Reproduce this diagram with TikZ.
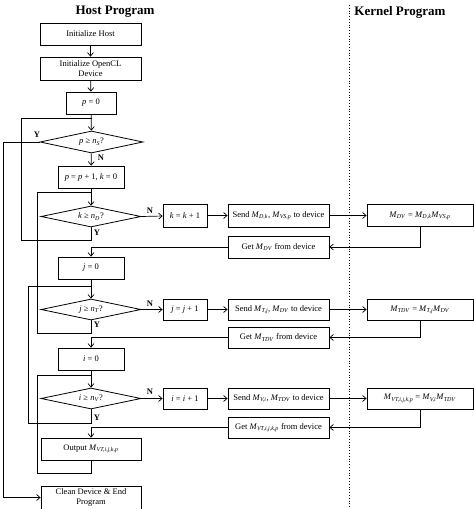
\documentclass[tikz,border=0pt]{standalone}
\usepackage{fontspec}
\setmainfont{Liberation Serif}
\usetikzlibrary{shapes.geometric,arrows.meta}
\newcommand{\iv}[1]{\textit{#1}}
\newcommand{\mm}[1]{\textit{M}\textsubscript{\textit{#1}}}
\newcommand{\bfs}{\fontsize{8.5}{9.5}\selectfont}
\begin{document}
\begin{tikzpicture}[x=1pt,y=-1pt,
  line width=0.7pt,
  box/.style={draw, line width=0.8pt, rectangle, inner sep=0pt, align=center, font=\bfs},
  dia/.style={draw, line width=0.8pt, diamond, aspect=5, inner sep=0pt, minimum width=100pt, minimum height=21pt, font=\bfs},
  arr/.style={-{Straight Barb[length=3.5pt,width=6pt]}},
  lab/.style={font=\fontsize{8.5}{9.5}\selectfont\bfseries, inner sep=1pt},
  title/.style={font=\fontsize{13}{15}\selectfont\bfseries}]
\useasboundingbox (0,0) rectangle (474,509);
% titles and divider
\node[title] (t1) at (115,12) {Host Program};
\node[title] (t2) at (400,12) {Kernel Program};
\draw[dotted, line width=0.8pt] (349,5) -- (349,509);
% host column
\node[box, minimum width=101pt, minimum height=22pt] (n1) at (90.5,34) {Initialize Host};
\node[box, minimum width=101pt, minimum height=23pt] (n2) at (90.5,68.5) {Initialize OpenCL\\Device};
\node[box, minimum width=50pt, minimum height=22pt] (n3) at (91,103) {\iv{p} = 0};
\node[dia, minimum width=103pt, minimum height=22pt] (d1) at (91.5,142) {\iv{p} ≥ \iv{n}\textsubscript{\iv{S}}?};
\node[box, minimum width=66pt, minimum height=22pt] (n4) at (91,177) {\iv{p} = \iv{p} + 1, \iv{k} = 0};
\node[dia] (d2) at (91,216.5) {\iv{k} ≥ \iv{n}\textsubscript{\iv{D}}?};
\node[box, minimum width=66pt, minimum height=22pt] (n5) at (91,268) {\iv{j} = 0};
\node[dia] (d3) at (91,309.5) {\iv{j} ≥ \iv{n}\textsubscript{\iv{T}}?};
\node[box, minimum width=66pt, minimum height=22pt] (n6) at (91,359) {\iv{i} = 0};
\node[dia] (d4) at (91,398.5) {\iv{i} ≥ \iv{n}\textsubscript{\iv{V}}?};
\node[box, minimum width=100pt, minimum height=22pt] (out) at (91,449) {Output \mm{VT,i,j,k,p}};
\node[box, minimum width=100pt, minimum height=23pt] (clean) at (91,497.5) {Clean Device \& End\\Program};
% row k
\node[box, minimum width=44pt, minimum height=23pt] (k1) at (185,215.5) {\iv{k} = \iv{k} + 1};
\node[box, minimum width=101pt, minimum height=23pt] (s1) at (278.5,215.5) {Send \mm{D,k}, \mm{VS,p} to device};
\node[box, minimum width=106pt, minimum height=22pt] (m1) at (420,215.5) {\mm{DV} = \mm{D,k}\mm{VS,p}};
\node[box, minimum width=101pt, minimum height=22pt] (g1) at (278.5,247) {Get \mm{DV} from device};
% row j
\node[box, minimum width=44pt, minimum height=21pt] (k2) at (185,309.5) {\iv{j} = \iv{j} + 1};
\node[box, minimum width=101pt, minimum height=21pt] (s2) at (278.5,309.5) {Send \mm{T,j}, \mm{DV} to device};
\node[box, minimum width=106pt, minimum height=21pt] (m2) at (420,309.5) {\mm{TDV} = \mm{T,j}\mm{DV}};
\node[box, minimum width=101pt, minimum height=21pt] (g2) at (278.5,337.5) {Get \mm{TDV} from device};
% row i
\node[box, minimum width=44pt, minimum height=21pt] (k3) at (185,398.5) {\iv{i} = \iv{i} + 1};
\node[box, minimum width=101pt, minimum height=21pt] (s3) at (278.5,398.5) {Send \mm{V,i}, \mm{TDV} to device};
\node[box, minimum width=106pt, minimum height=21pt] (m3) at (420,398.5) {\mm{VT,i,j,k,p} = \mm{V,i}\mm{TDV}};
\node[box, minimum width=101pt, minimum height=21pt] (g3) at (278.5,427.5) {Get \mm{VT,i,j,k,p} from device};
% coordinates for loops
\coordinate (pa) at (91,240);
\coordinate (pb) at (21,118);
\coordinate (ka) at (91,333);
\coordinate (kb) at (37,192);
\coordinate (ja) at (91,423);
\coordinate (jb) at (28,286);
\coordinate (ia) at (91,473);
\coordinate (ib) at (37,375);
\coordinate (ya) at (3,142);
% main flow
\draw[arr] (n1) -- (n2);
\draw[arr] (n2) -- (n3);
\draw[arr] (n3) -- (d1);
\draw[arr] (d1) -- (n4);
\draw[arr] (n4) -- (d2);
\draw[arr] (n5) -- (d3);
\draw[arr] (n6) -- (d4);
% loops back
\draw (d2.south) -- (pa) -| (pb) -- (pb -| d1.north);
\draw (d3.south) -- (ka) -| (kb) -- (kb -| d2.north);
\draw (d4.south) -- (ja) -| (jb) -- (jb -| d3.north);
\draw (out.south) -- (ia) -| (ib) -- (ib -| d4.north);
\draw[arr] (d1.west) -- (ya) |- (clean.west);
% rows
\draw[arr] (d2.east) -- (k1);
\draw[arr] (k1) -- (s1);
\draw[arr] (s1) -- (m1);
\draw[arr] (m1.south) |- (g1.east);
\draw[arr] (g1.west) -| (n5.north);
\draw[arr] (d3.east) -- (k2);
\draw[arr] (k2) -- (s2);
\draw[arr] (s2) -- (m2);
\draw[arr] (m2.south) |- (g2.east);
\draw[arr] (g2.west) -| (n6.north);
\draw[arr] (d4.east) -- (k3);
\draw[arr] (k3) -- (s3);
\draw[arr] (s3) -- (m3);
\draw[arr] (m3.south) |- (g3.east);
\draw[arr] (g3.west) -| (out.north);
% labels
\node[lab] (y1) at (37,135) {Y};
\node[lab] (nn1) at (101,158) {N};
\node[lab] (nn2) at (150,211) {N};
\node[lab] (y2) at (97,233) {Y};
\node[lab] (nn3) at (150,304) {N};
\node[lab] (y3) at (97,325) {Y};
\node[lab] (nn4) at (150,392) {N};
\node[lab] (y4) at (97,418) {Y};
\end{tikzpicture}
\end{document}
